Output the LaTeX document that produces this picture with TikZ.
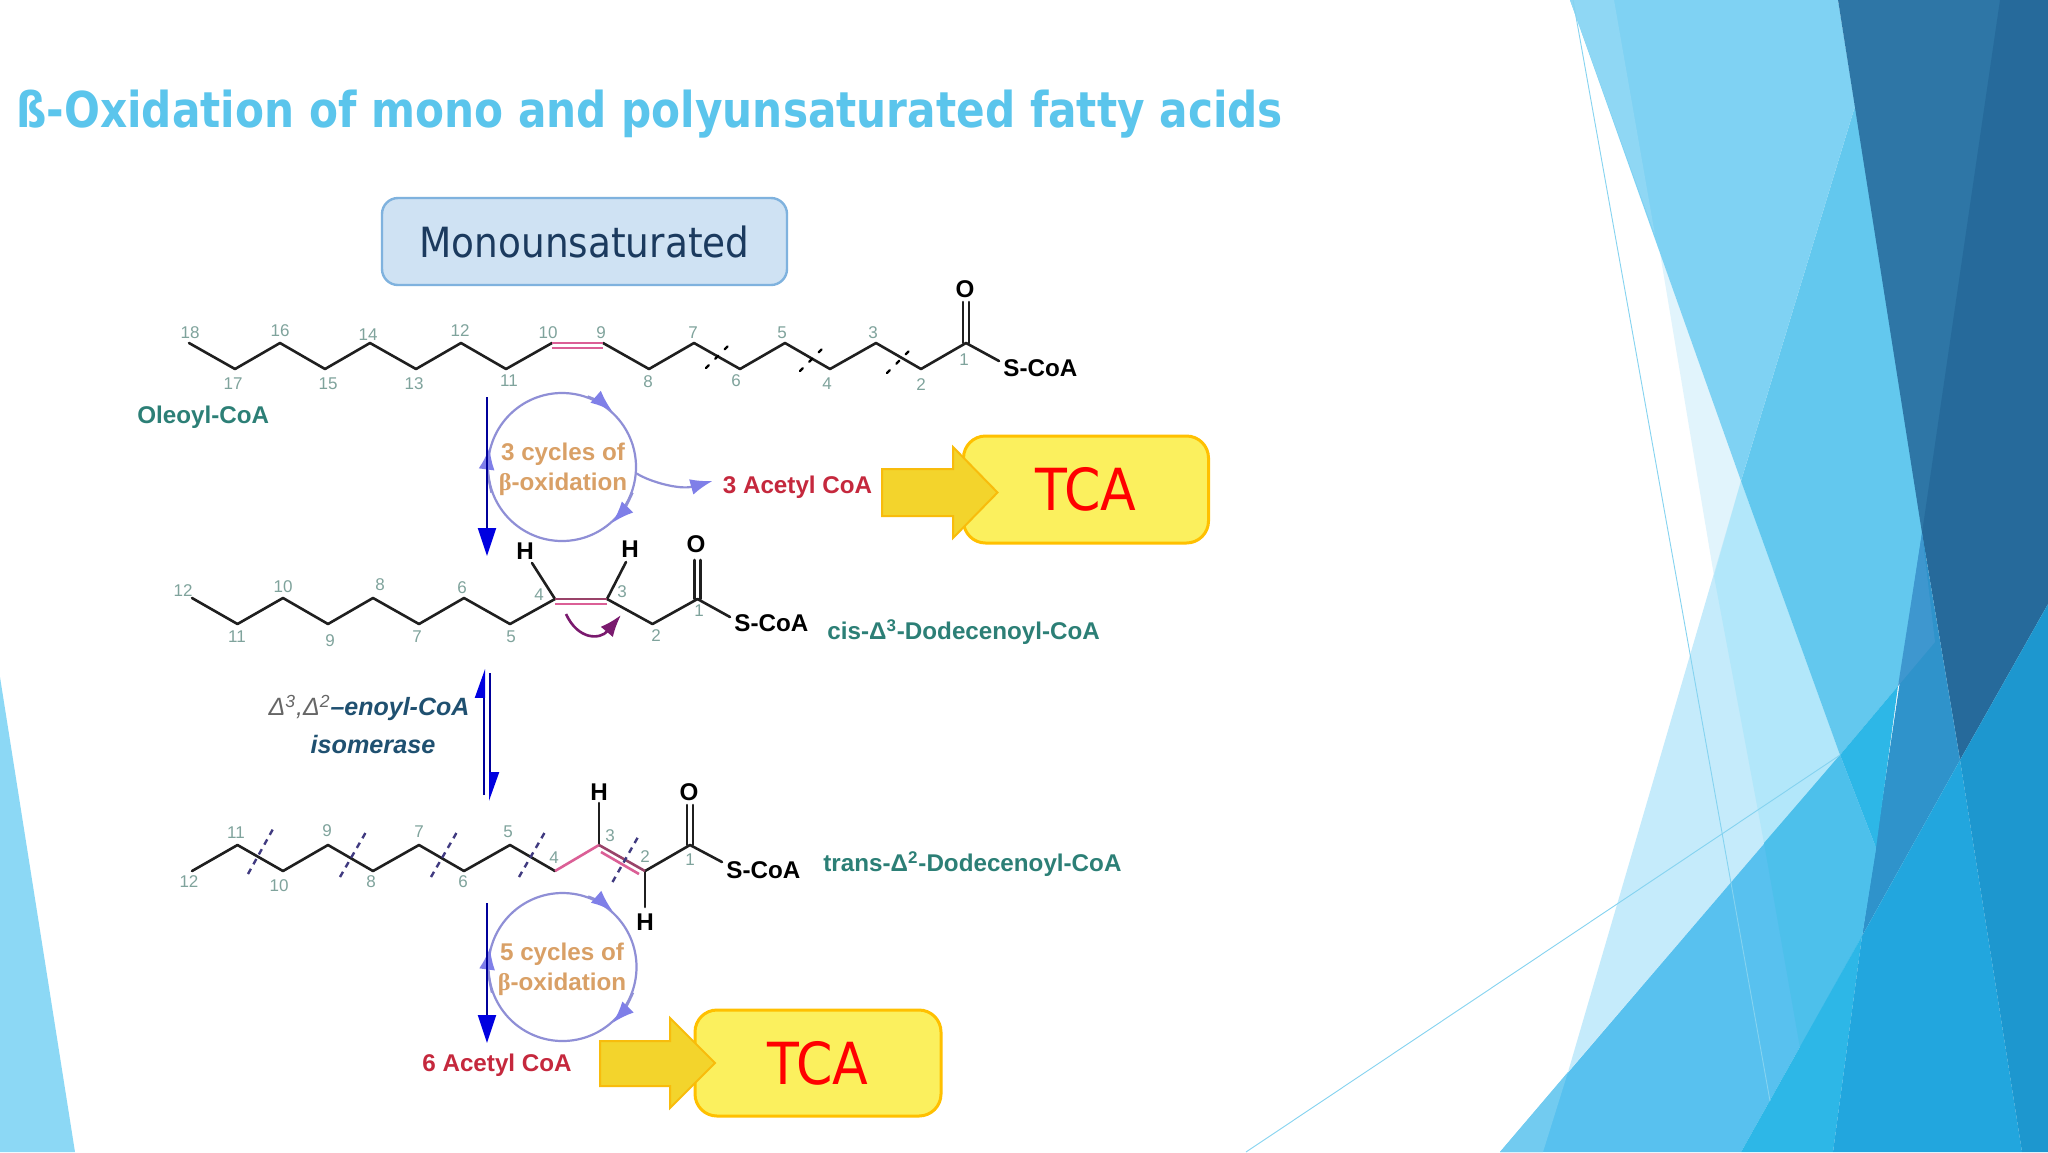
\documentclass[tikz,border=0pt]{standalone}
\usepackage{fontspec}
\usetikzlibrary{arrows.meta,calc}
\setmainfont{Liberation Sans}
\newfontfamily\tah[FakeStretch=0.9]{DejaVu Sans}
\newfontfamily\tahttl[FakeStretch=0.855]{DejaVu Sans}
\definecolor{numc}{HTML}{7FA39C}
\definecolor{teal}{HTML}{2C7F76}
\definecolor{redt}{HTML}{C5283D}
\definecolor{orat}{HTML}{D9A066}
\definecolor{cyc}{HTML}{8F8FD6}
\definecolor{cych}{HTML}{7F7FE8}
\definecolor{bshaft}{HTML}{00009A}
\definecolor{bhead}{HTML}{0000E0}
\definecolor{pk}{HTML}{DB5F96}
\definecolor{ttl}{HTML}{5BC5EC}
\definecolor{tcaf}{HTML}{FBF05E}
\definecolor{yedge}{HTML}{F8BC0C}
\definecolor{yfill}{HTML}{F3D42C}
\definecolor{tcae}{HTML}{FFC000}
\definecolor{boxe}{HTML}{7FB2DE}
\definecolor{boxf}{HTML}{CFE2F3}
\definecolor{boxt}{HTML}{1B3A5E}
\definecolor{enz}{HTML}{1F5070}
\definecolor{cE}{HTML}{E1F4FC}
\definecolor{cPa}{HTML}{C5EBFB}
\definecolor{cPb}{HTML}{B2E7FA}
\definecolor{cMa}{HTML}{63C8EE}
\definecolor{cLa}{HTML}{7FD2F3}
\definecolor{cLb}{HTML}{8FD7F4}
\definecolor{cDa}{HTML}{2E76A6}
\definecolor{cDb}{HTML}{266A9B}
\definecolor{cWa}{HTML}{2F93CB}
\definecolor{cWb}{HTML}{3E97CF}
\definecolor{cBa}{HTML}{2DB7E7}
\definecolor{cBb}{HTML}{22A6DE}
\definecolor{cBc}{HTML}{1D97CF}
\definecolor{cGa}{HTML}{58C1EF}
\definecolor{cGb}{HTML}{72CBF0}
\definecolor{cGc}{HTML}{4DC0EB}
\definecolor{cLT}{HTML}{8CD8F5}
\definecolor{thinc}{HTML}{85D3F0}
\definecolor{dpur}{HTML}{7A1A6E}
\definecolor{cutc}{HTML}{403A80}
\tikzset{
 num/.style={font=\fontsize{8.5}{10}\selectfont,text=numc,inner sep=0pt},
 atom/.style={font=\fontsize{12.1}{14}\selectfont\bfseries,text=black,inner sep=0pt},
 lab/.style={font=\fontsize{12.1}{14}\selectfont\bfseries,inner sep=0pt},
 bond/.style={draw=black!88,line width=1.3pt,line cap=round,line join=round},
 dbl/.style={draw=pk,line width=1.3pt},
 cutk/.style={draw=black,line width=1.2pt,dash pattern=on 2pt off 4.6pt,line cap=round},
 cutp/.style={draw=cutc,line width=1.2pt,dash pattern=on 3pt off 2.6pt},
 cyclecirc/.style={circle,draw=cyc,line width=1.1pt,minimum size=74pt,inner sep=0pt},
 cyctip/.style={draw=cyc,line width=1.1pt,-{Latex[length=11pt,width=8pt,color=cych]}},
 bluearrow/.style={draw=bshaft,line width=1pt,-{Triangle[length=14pt,width=9pt,color=bhead]}},
 tcabox/.style={draw=tcae,fill=tcaf,line width=1.5pt,rounded corners=11pt,inner sep=0pt,font=\tah\fontsize{29}{32}\selectfont,text=red},
 yarrow/.style={draw=yedge,fill=yfill,line width=1pt,line join=miter},
 thinl/.style={draw=thinc,line width=0.45pt},
}
\begin{document}
\begin{tikzpicture}[x=0.5pt,y=-0.5pt]
\useasboundingbox (0,0) rectangle (2048,1152);
\fill[white] (0,0) rectangle (2048,1152);
% ---- decorative shapes, right
\fill[cE] (1660,253) -- (1714,576) -- (1741,481) -- cycle;
\fill[cPa] (1741,481) -- (1840,755) -- (1568,1072) -- cycle;
\fill[cPb] (1741,481) -- (1714,576) -- (1764,843) -- (1840,755) -- cycle;
\fill[cMa] (1855,106) -- (1930,533) -- (1898,686) -- (1840,755) -- (1741,481) -- cycle;
\fill[cLa] (1570,0) -- (1838,0) -- (1855,106) -- (1741,481) -- cycle;
\fill[cLb] (1570,0) -- (1614,0) -- (1655,235) -- cycle;
\fill[cDa] (1838,0) -- (2010,0) -- (1930,533) -- (1922,533) -- cycle;
\fill[cDb] (2000,0) -- (2048,0) -- (2048,604) -- (1960,760) -- (1922,533) -- cycle;
\fill[cWa] (1922,533) -- (1960,760) -- (1862,936) -- cycle;
\fill[cBa] (1840,755) -- (1898,686) -- (1876,848) -- cycle;
\fill[cGa] (1500,1152) -- (1840,755) -- (1876,848) -- (1862,936) -- (1741,1152) -- cycle;
\fill[cGb] (1500,1152) -- (1568,1072) -- (1543,1152) -- cycle;
\fill[cGc] (1764,843) -- (1840,755) -- (1876,848) -- (1862,936) -- (1800,1048) -- cycle;
\fill[cBa] (1741,1152) -- (1862,936) -- (1833,1152) -- cycle;
\fill[cBb] (1862,936) -- (1960,760) -- (2022,1152) -- (1833,1152) -- cycle;
\fill[cBc] (1960,760) -- (2048,604) -- (2048,1152) -- (2022,1152) -- cycle;
\fill[cWb] (1922,533) -- (1935,642) -- (1898,686) -- cycle;
\coordinate (t1a) at (1573,0); \coordinate (t1b) at (1770,1101);
\coordinate (t2a) at (1246,1152); \coordinate (t2b) at (1840,755);
\draw[thinl] (t1a) -- (t1b);
\draw[thinl] (t2a) -- (t2b);
% left triangle
\fill[cLT] (0,677) -- (75,1152) -- (0,1152) -- cycle;
% title
\node[font=\tahttl\bfseries\fontsize{24.7}{28}\selectfont,text=ttl,anchor=west,inner sep=0pt] (title) at (16,114) {ß-Oxidation of mono and polyunsaturated fatty acids};
\node[draw=boxe,fill=boxf,line width=1.2pt,rounded corners=8pt,minimum width=202.5pt,minimum height=43.5pt,inner sep=0pt,font=\tah\fontsize{20.8}{24}\selectfont,text=boxt] (mono) at (584.5,241.5) {Monounsaturated};
% ---- chain 1
\foreach \n/\x/\y in {18/189/343,17/235/369,16/280/343,15/325/369,14/370/343,13/416/369,12/461/343,11/506/369,10/552/343,9/603/343,8/649/369,7/694/343,6/740/369,5/785/343,4/830/369,3/876/343,2/921/369,1/966/343}{\coordinate (a\n) at (\x,\y);}
\coordinate (aS) at (999,361);
\draw[bond] (a18)--(a17)--(a16)--(a15)--(a14)--(a13)--(a12)--(a11)--(a10);
\draw[bond] (a9)--(a8)--(a7)--(a6)--(a5)--(a4)--(a3)--(a2)--(a1)--(aS);
\draw[dbl] (a10)--(a9);
\draw[dbl] ($(a10)+(0,5)$)--($(a9)+(0,5)$);
\node[atom] (aO) at (965,289) {O};
\node[atom,anchor=west] (aCoA) at (1003,368) {S-CoA};
\draw[bond] ($(a1)+(-3,0)$)--($(a1)+(-3,-41)$);
\draw[bond] ($(a1)+(3,0)$)--($(a1)+(3,-41)$);
\foreach \n/\x/\y in {18/190/333,16/280/331,14/368/335,12/460/331,10/548/333,9/601/333,17/233/384,15/328/384,13/414/384,11/509/381,8/648/382,7/693/333,5/782/333,3/873/333,1/964/360,6/736/381,4/827/384,2/921/385}{\node[num] (al\n) at (\x,\y) {\n};}
\coordinate (ca1) at (706,368); \coordinate (cb1) at (734,340);
\coordinate (ca2) at (800,371); \coordinate (cb2) at (828,343);
\coordinate (ca3) at (887,373); \coordinate (cb3) at (914,346);
\foreach \i in {1,2,3}{\draw[cutk] (ca\i)--(cb\i);}
\node[lab,text=teal,anchor=west] (oleoyl) at (137,417) {Oleoyl-CoA};
% ---- cycle 1
\node[cyclecirc] (cy1) at (562,467) {};
\node[lab,text=orat] (cy1a) at (563,454) {3 cycles of};
\node[lab,text=orat] (cy1b) at (563,484) {{\fontspec{Liberation Serif}β}-oxidation};
\draw[cyctip] (cy1.70) to[bend left=10] (cy1.48);
\draw[cyctip] (cy1.-20) to[bend left=10] (cy1.-48);
\draw[cyctip] (cy1.200) to[bend left=10] (cy1.165);
\coordinate (ar1a) at (487,397); \coordinate (ar1b) at (487,556);
\draw[bluearrow] (ar1a)--(ar1b);
\node[lab,text=redt,anchor=west] (ac3) at (722.5,487) {3 Acetyl CoA};
\draw[cyctip] (cy1.-5) .. controls (650,482) and (680,490) .. ($(ac3.west)+(-10,-6)$);
\node[tcabox,minimum width=122.5pt,minimum height=53.5pt] (tca1) at (1086,489.5) {TCA};
\fill[yarrow] (882,469)--(953,469)--(953,447)--(997.5,492.5)--(953,538)--(953,516)--(882,516)--cycle;
% ---- chain 2
\foreach \n/\x/\y in {12/192/598,11/237.5/624,10/283/598,9/328/624,8/373/598,7/419/624,6/464/598,5/510/624,4/555/599,3/607/599,2/652.5/624,1/697.5/599}{\coordinate (b\n) at (\x,\y);}
\coordinate (bS) at (730,617);
\coordinate (bHa) at (532,563); \coordinate (bHb) at (626,562);
\draw[bond] (b12)--(b11)--(b10)--(b9)--(b8)--(b7)--(b6)--(b5)--(b4);
\draw[bond] (b3)--(b2)--(b1)--(bS);
\draw[bond] (b4)--(bHa); \draw[bond] (b3)--(bHb);
\draw[dbl,draw=black!30!pk] (b4)--(b3);
\draw[dbl] ($(b4)+(0,5)$)--($(b3)+(0,5)$);
\draw[bond] ($(b1)+(-3,0)$)--($(b1)+(-3,-39)$);
\draw[bond] ($(b1)+(3,0)$)--($(b1)+(3,-39)$);
\node[atom] (bO) at (696,544) {O};
\node[atom] (bH1) at (525,551) {H};
\node[atom] (bH2) at (630,549) {H};
\node[atom,anchor=west] (bCoA) at (734,623) {S-CoA};
\foreach \n/\x/\y in {12/183/591,10/283/587,8/380/585,6/462/588,4/539/595,3/622/592,11/237/637,9/330/641,7/417/637,5/511/637,2/656/636,1/699/611}{\node[num] (bl\n) at (\x,\y) {\n};}
\coordinate (ma) at (566,614); \coordinate (mb) at (621,615);
\draw[draw=dpur,line width=1.3pt,-{Latex[length=11pt,width=8pt]}] (ma) .. controls (578,640) and (600,640) .. (mb);
\node[lab,text=teal,anchor=west] (cis) at (827,632) {cis-Δ\textsuperscript{3}-Dodecenoyl-CoA};
% equilibrium
\coordinate (eqa) at (484,795); \coordinate (eqb) at (484,669);
\coordinate (eqc) at (490,673); \coordinate (eqd) at (490,801);
\draw[draw=bshaft,line width=1pt,-{Triangle[length=13pt,width=9pt,left,color=bhead]}] (eqa)--(eqb);
\draw[draw=bshaft,line width=1pt,-{Triangle[length=13pt,width=9pt,left,color=bhead]}] (eqc)--(eqd);
\node[font=\fontsize{12.5}{14}\selectfont\bfseries\itshape,text=enz,inner sep=0pt] (enz1) at (369,708) {{\mdseries\color{black!60}Δ\textsuperscript{3},Δ\textsuperscript{2}}–enoyl-CoA};
\node[font=\fontsize{12.6}{14}\selectfont\bfseries\itshape,text=enz,inner sep=0pt] (enz2) at (373,744) {isomerase};
% ---- chain 3
\foreach \n/\x/\y in {12/192/871,11/237.5/845,10/283/871,9/328/845,8/373/871,7/419/845,6/464/871,5/510/845,4/555/871,3/599/845,2/645/871,1/690/845}{\coordinate (c\n) at (\x,\y);}
\coordinate (cS) at (722,862);
\coordinate (cHa) at (599,803); \coordinate (cHb) at (645,907);
\draw[bond] (c12)--(c11)--(c10)--(c9)--(c8)--(c7)--(c6)--(c5)--(c4);
\draw[bond] (c2)--(c1)--(cS);
\draw[bond] (c3)--(cHa); \draw[bond] (c2)--(cHb);
\draw[dbl] (c4)--(c3);
\draw[dbl,draw=black!30!pk] (c3)--(c2);
\coordinate (c3i) at (601,852); \coordinate (c2i) at (639,874);
\draw[dbl] (c3i)--(c2i);
\draw[bond] ($(c1)+(-3,0)$)--($(c1)+(-3,-40)$);
\draw[bond] ($(c1)+(3,0)$)--($(c1)+(3,-40)$);
\node[atom] (cO) at (689,792) {O};
\node[atom] (cH1) at (599,792) {H};
\node[atom] (cH2) at (645,922) {H};
\node[atom,anchor=west] (cCoA) at (726,870) {S-CoA};
\foreach \n/\x/\y in {11/236/833,9/327/831,7/419/832,5/508/832,3/610/836,2/645/857,1/690/860,4/554/858,12/189/882,10/279/886,8/371/882,6/463/882}{\node[num] (cl\n) at (\x,\y) {\n};}
\coordinate (da1) at (248,874); \coordinate (db1) at (273,829);
\coordinate (da2) at (340,877); \coordinate (db2) at (366,832);
\coordinate (da3) at (431,877); \coordinate (db3) at (457,832);
\coordinate (da4) at (519,877); \coordinate (db4) at (545,832);
\coordinate (da5) at (612.5,882); \coordinate (db5) at (638,837);
\foreach \i in {1,...,5}{\draw[cutp] (da\i)--(db\i);}
\node[lab,text=teal,anchor=west] (trans) at (823,864) {trans-Δ\textsuperscript{2}-Dodecenoyl-CoA};
% ---- cycle 2
\node[cyclecirc] (cy2) at (562.5,967) {};
\node[lab,text=orat] (cy2a) at (562,954) {5 cycles of};
\node[lab,text=orat] (cy2b) at (562,984) {{\fontspec{Liberation Serif}β}-oxidation};
\draw[cyctip] (cy2.70) to[bend left=10] (cy2.48);
\draw[cyctip] (cy2.-20) to[bend left=10] (cy2.-48);
\draw[cyctip] (cy2.200) to[bend left=10] (cy2.165);
\coordinate (ar2a) at (487,903); \coordinate (ar2b) at (487,1043);
\draw[bluearrow] (ar2a)--(ar2b);
\node[lab,text=redt,anchor=west] (ac6) at (422,1065) {6 Acetyl CoA};
\node[tcabox,minimum width=123pt,minimum height=53pt] (tca2) at (818,1063) {TCA};
\fill[yarrow] (600,1041)--(670,1041)--(670,1018)--(715,1063)--(670,1108)--(670,1086)--(600,1086)--cycle;
\end{tikzpicture}
\end{document}
